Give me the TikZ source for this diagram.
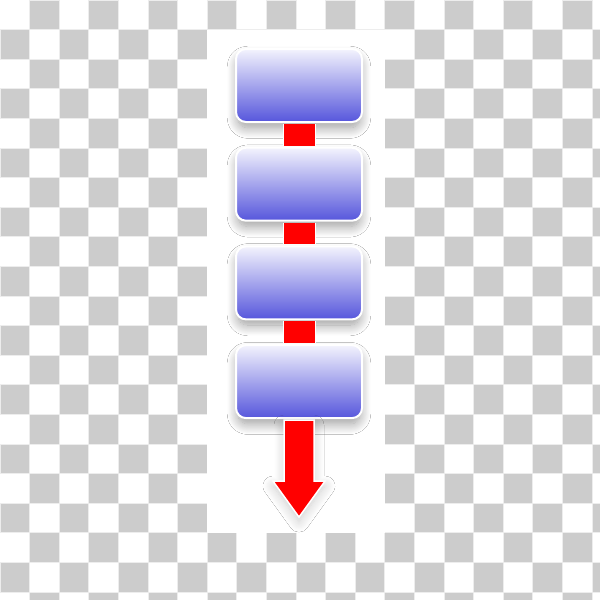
\documentclass[tikz,border=0pt]{standalone}
\usepackage{xcolor}
\usepackage{tikz}
\usetikzlibrary{calc}
\usetikzlibrary{shadows.blur}

\definecolor{checkgray}{HTML}{CCCCCC}
\definecolor{boxtop}{HTML}{F3F3FD}
\definecolor{boxbot}{HTML}{5656DC}

\begin{document}
\begin{tikzpicture}[x=1pt,y=-1pt,
	box/.style={rectangle,rounded corners=10pt,minimum width=126pt,minimum height=73pt,
		top color=boxtop,bottom color=boxbot,draw=white,line width=2pt,
		blur shadow={shadow xshift=0pt,shadow yshift=-7pt,shadow scale=0.97,shadow blur radius=11pt,shadow blur steps=14,shadow opacity=40}},
	link/.style={draw=white,line width=1pt,double=red,double distance=31pt,shorten <=1pt,shorten >=1pt}]
	\useasboundingbox (0,0) rectangle (600,600);
	\clip (0,0) rectangle (600,600);
	% checker background
	\foreach \i in {0,...,20}
		\foreach \j in {0,...,20}{
			\pgfmathtruncatemacro{\odd}{mod(\i+\j,2)}
			\ifnum\odd=1
				\filldraw[fill=checkgray,draw=checkgray!35!white,line width=0.7pt] (\i*29.6,\j*29.6) rectangle ++(29.6,29.6);
			\fi
		}
	\fill[white] (207.2,29.6) rectangle (384.8,532.8);
	% boxes
	\foreach \k/\y in {1/85.5,2/184.2,3/282.9,4/381.6}
		\node[box] (b\k) at (299,\y) {};
	\foreach \k [evaluate=\k as \n using int(\k+1)] in {1,2,3}
		\draw[link] (b\k.south) -- (b\n.north);
	% arrow
	\coordinate (tip) at ($(b4.south)+(0,98)$);
	\draw[white,line width=1.5pt,fill=red,line join=miter,
		blur shadow={shadow xshift=0pt,shadow yshift=-5pt,shadow blur radius=10pt,shadow blur steps=12,shadow opacity=20}]
		($(b4.south)+(-15,1)$) -- ++(0,61) -- ++(-11,0) -- (tip) -- ++(26,-36) -- ++(-11,0) -- ++(0,-61) -- cycle;
\end{tikzpicture}
\end{document}
